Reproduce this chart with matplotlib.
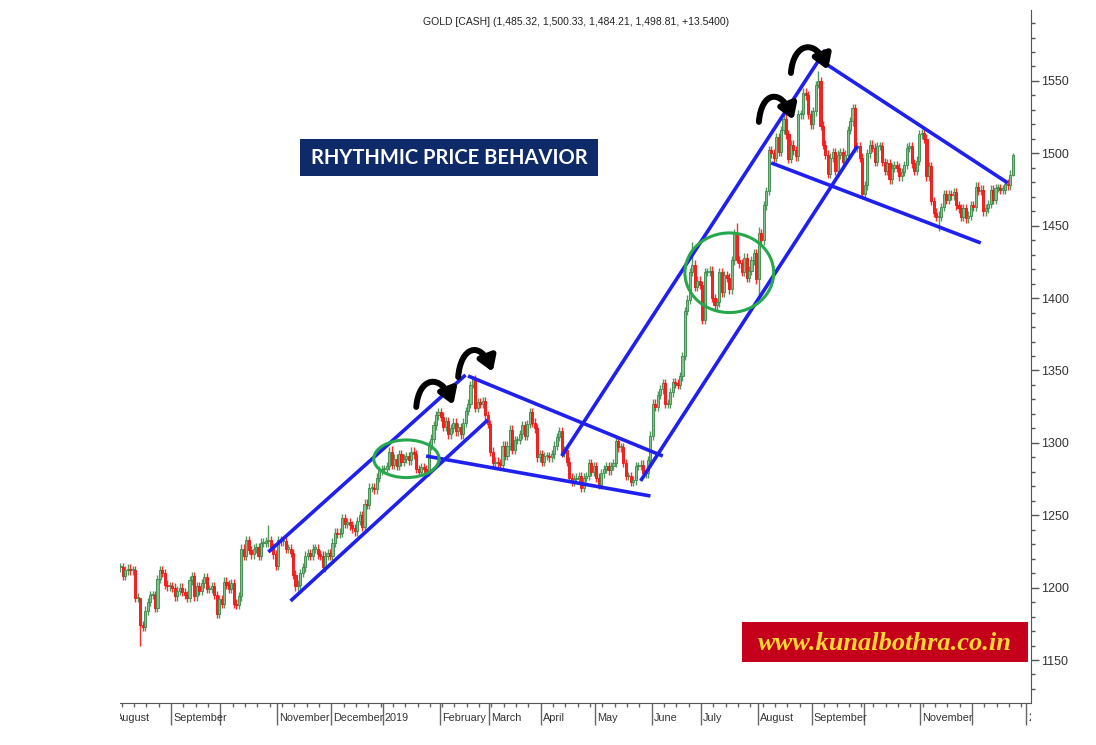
import numpy as np
import pandas as pd
import matplotlib
matplotlib.use("Agg")
import matplotlib.pyplot as plt
from matplotlib.patches import Ellipse, FancyArrowPatch, Rectangle
from matplotlib.path import Path
from matplotlib.transforms import Bbox, TransformedBbox, blended_transform_factory
from matplotlib.ticker import MultipleLocator, FixedLocator

# daily closes (USD/oz), one list per month
aug_2018 = [1214,
            1208, 1212, 1213, 1212, 1212,
            1193, 1193, 1174, 1173, 1184,
            1190, 1195, 1195, 1186, 1206,
            1212, 1210, 1202, 1201, 1201]
sep_2018 = [1200, 1194, 1198, 1200, 1197,
            1195, 1193, 1205, 1208, 1194,
            1201, 1198, 1203, 1207, 1199,
            1199, 1201, 1195, 1182, 1192]
oct_2018 = [1189, 1204, 1202, 1199, 1203,
            1189, 1188, 1194, 1227, 1222,
            1233, 1226, 1223, 1227, 1228,
            1222, 1231, 1231, 1232, 1233,
            1228, 1223, 1215]
nov_2018 = [1233, 1232,
            1232, 1227, 1227, 1224, 1209,
            1201, 1202, 1210, 1214, 1222,
            1224, 1222, 1227, 1227, 1223,
            1222, 1214, 1222, 1224, 1222]
dec_2018 = [1231, 1238, 1237, 1238, 1248,
            1244, 1245, 1243, 1241, 1239,
            1246, 1250, 1242, 1258, 1257,
            1269, 1269, 1268, 1276, 1281,
            1282]
jan_2019 = [1282, 1284, 1294, 1285,
            1289, 1284, 1292, 1287, 1289,
            1291, 1288, 1294, 1292, 1282,
            1280, 1283, 1282, 1280, 1298,
            1303, 1312, 1319, 1321]
feb_2019 = [1318,
            1311, 1315, 1306, 1310, 1314,
            1308, 1311, 1306, 1314, 1322,
            1327, 1340, 1344, 1324, 1328,
            1327, 1329, 1319, 1313]
mar_2019 = [1294,
            1286, 1287, 1286, 1285, 1298,
            1291, 1298, 1309, 1295, 1302,
            1302, 1306, 1312, 1305, 1313,
            1321, 1314, 1310, 1290, 1292]
apr_2019 = [1287, 1291, 1291, 1290, 1292,
            1298, 1304, 1308, 1293, 1295,
            1287, 1276, 1273, 1275, 1276,
            1277, 1269, 1276, 1277, 1286,
            1280, 1284]
may_2019 = [1276, 1271, 1279,
            1282, 1284, 1281, 1284, 1286,
            1301, 1297, 1297, 1286, 1277,
            1277, 1273, 1274, 1284, 1284,
            1285, 1279, 1279, 1288, 1305]
jun_2019 = [1327, 1325, 1333, 1337, 1341,
            1327, 1327, 1335, 1342, 1341,
            1340, 1346, 1360, 1391, 1399,
            1418, 1423, 1408, 1412, 1409]
jul_2019 = [1385, 1418, 1418, 1419, 1400,
            1395, 1397, 1418, 1404, 1416,
            1414, 1406, 1426, 1445, 1426,
            1424, 1418, 1428, 1414, 1419,
            1426, 1431, 1413]
aug_2019 = [1445, 1440,
            1464, 1474, 1502, 1500, 1497,
            1511, 1501, 1516, 1524, 1513,
            1496, 1506, 1502, 1498, 1527,
            1527, 1542, 1540, 1527, 1520]
sep_2019 = [1529, 1547, 1550, 1519, 1506,
            1499, 1486, 1497, 1501, 1488,
            1499, 1501, 1494, 1499, 1516,
            1522, 1531, 1504, 1505, 1497,
            1472]
oct_2019 = [1478, 1500, 1506, 1504,
            1494, 1505, 1505, 1494, 1488,
            1493, 1482, 1490, 1492, 1490,
            1484, 1487, 1492, 1504, 1505,
            1493, 1488, 1495, 1513]
nov_2019 = [1514,
            1510, 1484, 1491, 1467, 1459,
            1456, 1456, 1463, 1472, 1468,
            1472, 1471, 1473, 1464, 1462,
            1456, 1462, 1455, 1457, 1464]
dec_2019 = [1463, 1477, 1474, 1475, 1460,
            1462, 1465, 1475, 1468, 1476,
            1476, 1475, 1475, 1479, 1478,
            1485.32, 1498.81]

# days whose wicks stand out: date -> (high, low)
wick_extremes = {
    "2018-08-15": (1193, 1160),
    "2018-10-26": (1243, 1228),
    "2019-01-04": (1298, 1282),
    "2019-02-20": (1346, 1338),
    "2019-06-25": (1439, 1415),
    "2019-07-19": (1452, 1424),
    "2019-08-01": (1449, 1400),
    "2019-09-04": (1557, 1545),
    "2019-11-12": (1460, 1446),
    "2019-12-24": (1500.33, 1484.21),
}

month_labels = ["August", "September", "", "November", "December", "2019",
                "February", "March", "April", "May", "June", "July",
                "August", "September", "", "November", "", "2020"]

title = "GOLD [CASH] (1,485.32, 1,500.33, 1,484.21, 1,498.81, +13.5400)"

# drawn-on analysis: trend lines, circles and hook arrows (date, price)
trend_lines = [
    (("2018-10-26", 1224.6), ("2019-02-15", 1346.9)),
    (("2018-11-08", 1190.8), ("2019-02-28", 1315.8)),
    (("2019-02-18", 1346.2), ("2019-06-07", 1290.9)),
    (("2019-01-24", 1290.9), ("2019-05-31", 1263.3)),
    (("2019-04-11", 1290.9), ("2019-09-09", 1571.4)),
    (("2019-05-27", 1273.7), ("2019-09-26", 1505.1)),
    (("2019-09-06", 1563.1), ("2019-12-20", 1479.5)),
    (("2019-08-08", 1493.4), ("2019-12-05", 1438.1)),
]
circles = [("2019-01-14", 1289, 26.5, 26), ("2019-07-16", 1417.5, 36, 55)]
hooks = [
    (("2019-01-18", 1324.8), ("2019-02-08", 1326.2)),
    (("2019-02-12", 1345.5), ("2019-03-04", 1349.0)),
    (("2019-08-01", 1521.7), ("2019-08-21", 1523.1)),
    (("2019-08-20", 1555.5), ("2019-09-10", 1557.6)),
]

closes = np.array(aug_2018 + sep_2018 + oct_2018 + nov_2018 + dec_2018 + jan_2019
                  + feb_2019 + mar_2019 + apr_2019 + may_2019 + jun_2019 + jul_2019
                  + aug_2019 + sep_2019 + oct_2019 + nov_2019 + dec_2019, dtype=float)
dates = pd.bdate_range("2018-08-03", "2019-12-24")
axis_days = pd.bdate_range("2018-08-01", "2020-01-01")
day_pos = {d: i for i, d in enumerate(axis_days)}
pos = np.array([day_pos[d] for d in dates])

def xp(d):
    return day_pos[pd.Timestamp(d)]

# open = previous close
opens = np.concatenate([[closes[0]], closes[:-1]])
opens[-1] = 1485.32
highs = np.maximum(opens, closes) + 3
lows = np.minimum(opens, closes) - 3
for d, (h, l) in wick_extremes.items():
    i = dates.get_loc(pd.Timestamp(d))
    highs[i], lows[i] = h, l

fig = plt.figure(figsize=(10.96, 7.45), dpi=100)
ax_l, ax_r = 120 / 1096, 1031 / 1096
ax = fig.add_axes([ax_l, 42 / 745, ax_r - ax_l, 693 / 745])

up = closes >= opens
ax.vlines(pos, lows, highs, colors=np.where(up, "#4f9a5c", "#ff2a2a"), linewidth=1.0, zorder=2)
ax.bar(pos, np.maximum(np.abs(closes - opens), 0.8), bottom=np.minimum(opens, closes),
       width=0.85, color=list(np.where(up, "#7fc28a", "#ff1f1f")),
       edgecolor=list(np.where(up, "#3a8748", "#ee1010")), linewidth=0.6, zorder=3)

ax.set_xlim(1.8, 371.4)
ax.set_ylim(1120.3, 1599)

# price axis on the right
ax.yaxis.tick_right()
ax.yaxis.set_major_locator(MultipleLocator(50))
ax.yaxis.set_minor_locator(MultipleLocator(10))
ax.tick_params(axis="y", which="major", length=5.5, width=1, color="#555", pad=2,
               labelsize=9, labelcolor="#333")
ax.tick_params(axis="y", which="minor", length=3, width=1, color="#555")
for lab in ax.get_yticklabels():
    lab.set_fontfamily("Liberation Sans")

# month separators and weekly ticks
month_pos = [i for i, d in enumerate(axis_days) if i == 0 or d.month != axis_days[i - 1].month]
mondays = [i - 0.5 for i, d in enumerate(axis_days) if d.weekday() == 0]
ax.xaxis.set_major_locator(FixedLocator([m - 0.5 for m in month_pos]))
ax.xaxis.set_minor_locator(FixedLocator(mondays))
ax.tick_params(axis="x", which="major", length=16, width=1, color="#666", labelbottom=False)
ax.tick_params(axis="x", which="minor", length=3, width=1, color="#666")

clip = TransformedBbox(Bbox([[ax_l, 0], [ax_r, 1]]), fig.transFigure)
trans = blended_transform_factory(ax.transData, ax.transAxes)
for m, lab in zip(month_pos, month_labels):
    t = ax.text(m + 0.3, -0.021, lab, transform=trans, ha="left", va="center",
                fontsize=7.8, color="#333", family="Liberation Sans", clip_on=True)
    t.set_clip_box(clip)

for side in ["top", "left"]:
    ax.spines[side].set_visible(False)
for side in ["right", "bottom"]:
    ax.spines[side].set_color("#555")

# annotations
for (d0, p0), (d1, p1) in trend_lines:
    ax.plot([xp(d0), xp(d1)], [p0, p1], color="#1f1ff0", linewidth=2.6,
            solid_capstyle="butt", zorder=4)
for d, p, w, h in circles:
    ax.add_patch(Ellipse((xp(d), p), w, h, fill=False, edgecolor="#26a84c",
                         linewidth=2.2, zorder=5))
for (d0, p0), (d1, p1) in hooks:
    x0, x1 = xp(d0), xp(d1)
    verts = [(x0, p0), (x0 + 1, p0 + 21), (x1 - 5, p1 + 22), (x1, p1)]
    arc = Path(verts, [Path.MOVETO, Path.CURVE4, Path.CURVE4, Path.CURVE4])
    ax.add_patch(FancyArrowPatch(path=arc, arrowstyle="-|>,head_length=0.7,head_width=0.45",
                                 mutation_scale=12, linewidth=4.3, color="black", zorder=6))

fig.text(0.5255, 0.9705, title, ha="center", va="center", fontsize=7.5,
         color="#222", family="Liberation Sans")

fig.add_artist(Rectangle((300 / 1096, 1 - 176 / 745), 298 / 1096, 37 / 745,
                         transform=fig.transFigure, facecolor="#0f2a68", edgecolor="none", zorder=7))
fig.text(449 / 1096, 1 - 158 / 745, "RHYTHMIC PRICE BEHAVIOR", ha="center", va="center",
         fontsize=14.5, fontweight="bold", color="white", family="Lato", zorder=8)

fig.add_artist(Rectangle((742 / 1096, 1 - 662 / 745), 286 / 1096, 40 / 745,
                         transform=fig.transFigure, facecolor="#c4001a", edgecolor="none", zorder=7))
fig.text(885 / 1096, 1 - 643 / 745, "www.kunalbothra.co.in", ha="center", va="center",
         fontsize=19, fontweight="bold", fontstyle="italic", color="#ffd830",
         family="Liberation Serif", zorder=8)

fig.savefig("out.png", dpi=100, facecolor="white")
